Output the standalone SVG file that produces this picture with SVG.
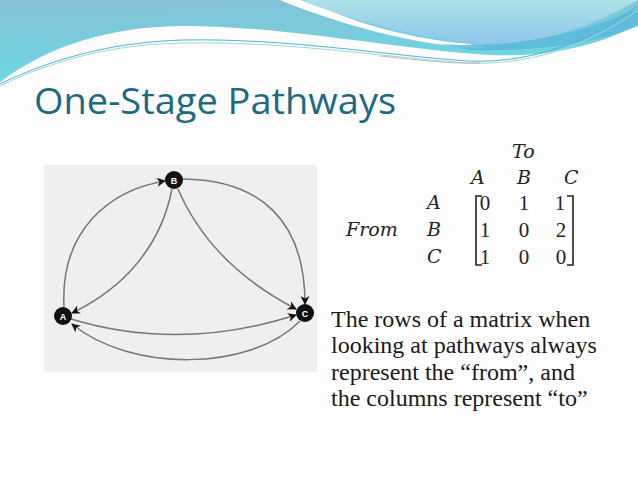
<svg xmlns="http://www.w3.org/2000/svg" width="638" height="478" viewBox="0 0 638 478">
<defs>
<linearGradient id="gBlue" x1="0" y1="0" x2="0.3" y2="1">
<stop offset="0" stop-color="#86bfd6"/>
<stop offset="1" stop-color="#6ad9e3"/>
</linearGradient>
<linearGradient id="gLight" x1="0" y1="0" x2="0" y2="1">
<stop offset="0" stop-color="#ade2e6"/>
<stop offset="1" stop-color="#8ec6ec"/>
</linearGradient>
<marker id="arr" viewBox="0 0 10 10" refX="9" refY="5" markerWidth="9" markerHeight="9" markerUnits="userSpaceOnUse" orient="auto">
<path d="M0,0 L10,5 L0,10 L3,5 Z" fill="#111"/>
</marker>
<style>
.edge{fill:none;stroke:#777;stroke-width:1.5;marker-end:url(#arr)}
.node{fill:#111}
.nl{font-family:"Liberation Sans",Arial,sans-serif;font-weight:bold;font-size:9px;fill:#fff;text-anchor:middle}
.m{font-family:"DejaVu Serif","Liberation Serif",serif;font-style:italic;font-size:19px;fill:#222}
.d{font-family:"Liberation Serif",serif;font-size:21px;fill:#222}
.body{font-family:"Liberation Serif",serif;font-size:24px;fill:#1a1a1a}
</style>
</defs>
<rect width="638" height="478" fill="#fdfdfd"/>
<!-- header wave -->
<g id="header">
<path d="M0,82 C50,45 110,27 180,26 C280,25 400,50 490,55 C560,58 610,40 638,24 L638,0 L0,0 Z" fill="url(#gBlue)"/>
<path d="M280,0 C340,25 420,46 478,48 C500,49 470,46 470,44 C400,38 340,18 310,0 Z" fill="#ffffff"/>
<path d="M300,0 C350,20 430,42 485,44 C545,45 600,22 638,0 Z" fill="url(#gLight)"/>
<path d="M440,44 C520,50 590,30 638,8 L638,26 C600,42 540,52 470,50 Z" fill="#5ab7d8" opacity="0.8"/>
<path d="M0,84 C60,55 120,42 183,40 C290,38 390,56 468,61 C540,64 600,35 638,5" fill="none" stroke="#55b0d6" stroke-width="1"/>
<path d="M0,86 C60,57 120,44 183,43 C290,41 390,58 468,63 C540,66 600,38 638,10" fill="none" stroke="#9ad8e0" stroke-width="1"/>
<path d="M380,56 C420,60 450,64 480,63" fill="none" stroke="#bbb" stroke-width="1"/>
</g>
<text x="34" y="114" font-family="'Open Sans','Liberation Sans',sans-serif" font-size="37" fill="#1b6a82" textLength="362" lengthAdjust="spacingAndGlyphs">One-Stage Pathways</text>
<!-- graph picture -->
<rect x="44" y="165" width="273" height="207" fill="#efefef"/>
<g id="connectors">
<path class="edge" d="M64,307 C60,230 110,190 165,181"/>
<path class="edge" d="M172,189 C160,250 120,290 72,313"/>
<path class="edge" d="M178,189 C200,240 240,280 296,309"/>
<path class="edge" d="M183,179 C260,180 305,220 305,304"/>
<path class="edge" d="M71,319 Q180,352 296,315"/>
<path class="edge" d="M300,321 C250,372 130,372 72,324"/>
</g>
<g id="node-A"><circle class="node" cx="63" cy="316" r="9"/><text class="nl" x="63" y="319.5">A</text></g>
<g id="node-B"><circle class="node" cx="174" cy="180" r="9"/><text class="nl" x="174" y="183.5">B</text></g>
<g id="node-C"><circle class="node" cx="305" cy="313" r="9"/><text class="nl" x="305" y="316.5">C</text></g>
<!-- matrix -->
<g id="matrix">
<text class="m" x="512" y="158">To</text>
<text class="m" x="471" y="184">A</text>
<text class="m" x="517" y="184">B</text>
<text class="m" x="564" y="184">C</text>
<text class="m" x="427" y="209">A</text>
<text class="m" x="427" y="236">B</text>
<text class="m" x="427" y="263">C</text>
<text class="m" x="346" y="236">From</text>
<g class="d" text-anchor="middle">
<text x="485" y="210">0</text><text x="524" y="210">1</text><text x="560" y="210">1</text>
<text x="485" y="237">1</text><text x="524" y="237">0</text><text x="561" y="237">2</text>
<text x="485" y="264">1</text><text x="524" y="264">0</text><text x="561" y="264">0</text>
</g>
<path d="M482,196 L476,196 L476,265 L482,265" fill="none" stroke="#222" stroke-width="1.6"/>
<path d="M567,196 L573,196 L573,265 L567,265" fill="none" stroke="#222" stroke-width="1.6"/>
</g>
<g id="body-text" class="body">
<text x="331" y="327">The rows of a matrix when</text>
<text x="331" y="353">looking at pathways always</text>
<text x="331" y="380">represent the “from”, and</text>
<text x="331" y="406">the columns represent “to”</text>
</g>
</svg>
